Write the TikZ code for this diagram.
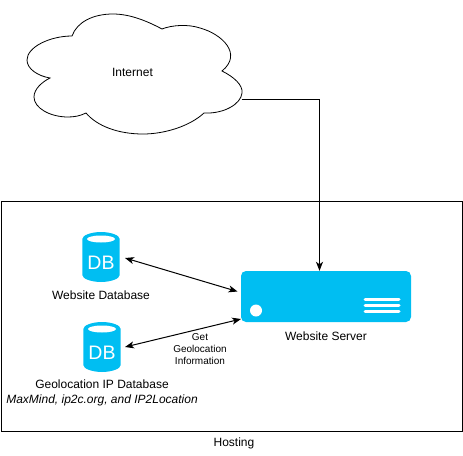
\documentclass[tikz,border=0pt]{standalone}
\usepackage{fontspec}
\setmainfont{Liberation Sans}
\usepackage{tikz}
\usetikzlibrary{positioning,calc,arrows.meta}
\definecolor{dbblue}{HTML}{00BEF2}
\tikzset{
    label12/.style={font=\fontsize{12}{14.5}\selectfont, align=center, inner sep=0pt},
    label10/.style={font=\fontsize{10}{12}\selectfont, align=center, inner sep=0pt},
    link/.style={black, line width=1pt, >={Stealth[length=9pt, width=7pt, inset=2.5pt]}},
    pics/dbicon/.style={code={
        \fill[dbblue] (-18.7,-18) .. controls (-18.7,-22) and (-9,-25) .. (0,-25) .. controls (9,-25) and (18.7,-22) .. (18.7,-18)
            -- (18.7,18) .. controls (18.7,22) and (9,25) .. (0,25) .. controls (-9,25) and (-18.7,22) .. (-18.7,18) -- cycle;
        \fill[white] (0,-18) ellipse [x radius=14, y radius=3.5];
        \node[white, inner sep=0pt, font=\fontsize{19.5}{20}\selectfont] (-text) at (0,5.7) {DB};
    }}
}
\begin{document}
\begin{tikzpicture}[x=1pt, y=-1pt]
    \useasboundingbox (0,0) rectangle (463,455);
    % internet
    \draw[line width=0.8pt, fill=white] (72,36) .. controls (77,22) and (93,14) .. (113,14)
        .. controls (130,14) and (147,21) .. (162,29)
        .. controls (172,25) and (188,24) .. (200,28)
        .. controls (222,34) and (243,54) .. (222,71)
        .. controls (234,77) and (243,85) .. (242,93)
        .. controls (241,104) and (224,114) .. (204,113)
        .. controls (190,126) and (165,134) .. (143,134)
        .. controls (118,134) and (97,126) .. (86,113)
        .. controls (80,116) and (74,117) .. (68,117)
        .. controls (50,117) and (34,108) .. (34,97)
        .. controls (34,89) and (42,82) .. (50,78)
        .. controls (38,76) and (27,69) .. (27,60)
        .. controls (27,47) and (50,36) .. (72,36) -- cycle;
    \node[label12] (internet) at (132.5,72) {Internet};
    \coordinate (cloudexit) at (241.5,99);

    % hosting
    \node[draw, line width=1pt, minimum width=460.5pt, minimum height=230.5pt, inner sep=0pt] (frame) at (231.75,316.25) {};
    \node[label12] (hosting) at (234,443.5) {Hosting};

    % server
    \node[fill=dbblue, rounded corners=5pt, minimum width=170pt, minimum height=51pt, inner sep=0pt] (server) at (326,296.5) {};
    \fill[white] (256,310.5) circle (6);
    \foreach \y in {299.5,305.5,311.5}
        \draw[white, line width=3pt, line cap=round] (365,\y) -- (399,\y);
    \node[label12] (serverlabel) at (326,336) {Website Server};

    % databases
    \pic (webdb) at (101,257) {dbicon};
    \node[label12] (webdblabel) at (101,295.5) {Website Database};
    \pic (geodb) at (102,347) {dbicon};
    \node[label12] (geodblabel) at (102,393) {Geolocation IP Database\\\textit{MaxMind, ip2c.org, and IP2Location}};

    \coordinate (webdbport) at (125,258);
    \coordinate (geodbport) at (125,347);
    \coordinate (serverup) at (237.5,291.5);
    \coordinate (serverlow) at (241,319);

    \draw[link, ->] (cloudexit) -| (server.north -| 319.5,0);
    \draw[link, <->] (webdbport) -- (serverup);
    \draw[link, <->] (geodbport) -- (serverlow);
    \node[label10] (getinfo) at (200,349) {Get\\Geolocation\\Information};
\end{tikzpicture}
\end{document}
